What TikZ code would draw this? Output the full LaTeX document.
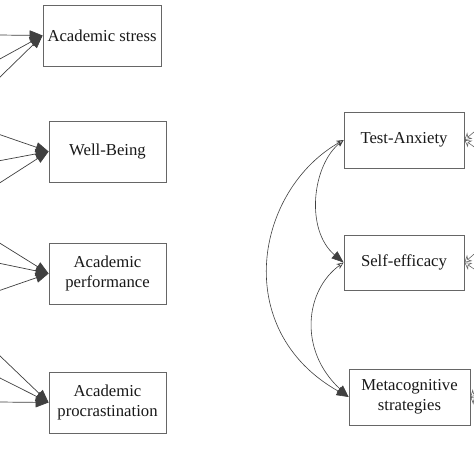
\documentclass[tikz,border=0pt]{standalone}
\usepackage{fontspec}
\setmainfont{Liberation Serif}
\usetikzlibrary{arrows.meta}
\begin{document}
\begin{tikzpicture}[x=1pt,y=-1pt,
  box/.style={draw=black!60, line width=0.8pt, inner sep=0pt, align=center,
    font=\fontsize{16.7}{20}\selectfont, text=black!90},
  inarrow/.style={draw=black!75, line width=0.7pt, -{Triangle[length=13pt,width=10pt]}},
  cov/.style={draw=black!75, line width=0.6pt, {Stealth[open,length=7pt,width=6pt]}-{Triangle[length=12pt,width=9pt]}},
  errarrow/.style={draw=black!60, line width=0.6pt, -{Stealth[open,length=7pt,width=8pt]}}]
\useasboundingbox (0,0) rectangle (474,474);
\clip (0,0) rectangle (474,474);
\fill[white] (0,0) rectangle (474,474);
% left boxes
\node[box, minimum width=118pt, minimum height=61pt] (as) at (102,35.5) {Academic stress};
\node[box, minimum width=117pt, minimum height=61pt] (wb) at (107.5,151.5) {Well-Being};
\node[box, minimum width=117pt, minimum height=61pt] (ap) at (107.5,273.5) {Academic\\performance};
\node[box, minimum width=117pt, minimum height=61pt] (apr) at (107.5,402.5) {Academic\\procrastination};
% right boxes
\node[box, minimum width=120pt, minimum height=56pt] (ta) at (404,140) {Test-Anxiety};
\node[box, minimum width=120pt, minimum height=55pt] (se) at (404,262.5) {Self-efficacy};
\node[box, minimum width=121pt, minimum height=56pt] (ms) at (409.5,397) {Metacognitive\\strategies};
% free ends on the left
\coordinate (a1) at (-2,35); \coordinate (a2) at (-2,60); \coordinate (a3) at (-2,79);
\coordinate (b1) at (-2,134); \coordinate (b2) at (-2,161); \coordinate (b3) at (-2,184);
\coordinate (c1) at (-2,242); \coordinate (c2) at (-2,263); \coordinate (c3) at (-2,291);
\coordinate (d1) at (-2,354); \coordinate (d2) at (-2,377); \coordinate (d3) at (-2,402);
\foreach \s in {a1,a2,a3} \draw[inarrow] (\s) -- (as.west);
\foreach \s in {b1,b2,b3} \draw[inarrow] (\s) -- (wb.west);
\foreach \s in {c1,c2,c3} \draw[inarrow] (\s) -- (ap.west);
\foreach \s in {d1,d2,d3} \draw[inarrow] (\s) -- (apr.west);
% free ends on the right
\coordinate (e1) at (480,127); \coordinate (e2) at (480,151);
\coordinate (f1) at (480,249); \coordinate (f2) at (480,273);
\coordinate (g1) at (484,384); \coordinate (g2) at (484,408);
\foreach \s in {e1,e2} \draw[errarrow] (\s) -- (ta.east);
\foreach \s in {f1,f2} \draw[errarrow] (\s) -- (se.east);
\foreach \s in {g1,g2} \draw[errarrow] (\s) -- (ms.east);
% covariances
\draw[cov] (ta.west) .. controls (312,165) and (305,230) .. (se.west);
\draw[cov] (se.west) .. controls (305,290) and (298,350) .. (ms.west);
\draw[cov] (ta.west) .. controls (255,190) and (230,330) .. (ms.west);
\end{tikzpicture}
\end{document}
